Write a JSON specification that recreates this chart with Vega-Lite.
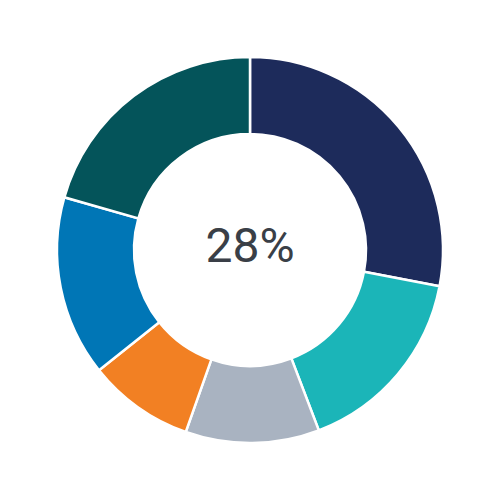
{
  "$schema": "https://vega.github.io/schema/vega-lite/v6.json",
  "width": 500,
  "height": 500,
  "autosize": {"type": "fit", "contains": "padding"},
  "padding": 0,
  "background": "white",
  "view": {"stroke": null},
  "layer": [
    {
      "data": {
        "values": [
          {"segment": "A", "order": 1, "share": 28},
          {"segment": "B", "order": 2, "share": 16.2},
          {"segment": "C", "order": 3, "share": 11.2},
          {"segment": "D", "order": 4, "share": 8.9},
          {"segment": "E", "order": 5, "share": 15.1},
          {"segment": "F", "order": 6, "share": 20.6}
        ]
      },
      "mark": {"type": "arc", "outerRadius": 193, "innerRadius": 116, "stroke": "white", "strokeWidth": 2.5},
      "encoding": {
        "theta": {"field": "share", "type": "quantitative", "stack": true},
        "order": {"field": "order", "type": "quantitative"},
        "color": {
          "field": "segment",
          "type": "nominal",
          "scale": {
            "domain": ["A", "B", "C", "D", "E", "F"],
            "range": ["#1d2b5b", "#1bb5b8", "#a9b3c1", "#f28023", "#0076b6", "#04545a"]
          },
          "legend": null
        }
      }
    },
    {
      "data": {"values": [{"label": "28%"}]},
      "mark": {"type": "text", "font": "Roboto", "fontSize": 48, "color": "#3a3f47", "baseline": "middle", "align": "center", "dy": -2},
      "encoding": {
        "text": {"field": "label", "type": "nominal"}
      }
    }
  ]
}
